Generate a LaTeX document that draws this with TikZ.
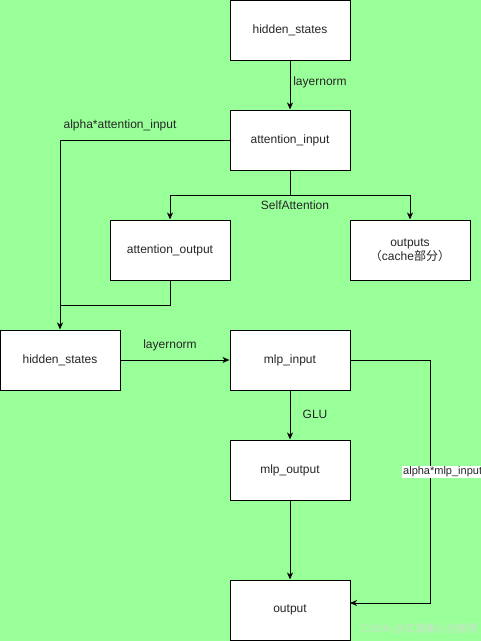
\documentclass[tikz,border=0pt]{standalone}
\usepackage{fontspec}
\setmainfont{Liberation Sans}
\newfontfamily\cjk{Noto Sans CJK SC}
\usetikzlibrary{arrows.meta,calc}
\definecolor{bggreen}{RGB}{153,255,153}
\definecolor{wmark}{RGB}{205,225,205}
\begin{document}
\begin{tikzpicture}[x=1pt,y=-1pt,
  box/.style={draw=black,fill=white,line width=1pt,minimum width=120pt,minimum height=60pt,inner sep=0pt,font=\fontsize{12}{14}\selectfont,align=center,text=black!85},
  conn/.style={draw=black,line width=1pt},
  arr/.style={conn,-{Stealth[length=7pt,width=6pt,inset=2pt]}},
  lbl/.style={font=\fontsize{12}{14}\selectfont,text=black!85,inner sep=1pt}]
\fill[bggreen] (0,0) rectangle (481,641);
\useasboundingbox (0,0) rectangle (481,641);

\node[box] (hs1) at (290,30) {hidden\_states};
\node[box] (ai) at (290,140) {attention\_input};
\node[box] (ao) at (170,250) {attention\_output};
\node[box] (outs) at (410,250) {outputs\\{\cjk （}cache{\cjk 部分）}};
\node[box] (hs2) at (60,360) {hidden\_states};
\node[box] (mi) at (290,360) {mlp\_input};
\node[box] (mo) at (290,470) {mlp\_output};
\node[box] (o) at (290,610) {output};

\coordinate (sp) at (290,195);
\coordinate (jn) at (60,305);
\coordinate (rt) at (430,603);
\coordinate (oe) at (350,603);

\draw[arr] (hs1) -- (ai);
\draw[conn] (ai.south) -- (sp);
\draw[arr] (sp) -| (ao.north);
\draw[arr] (sp) -| (outs.north);
\draw[arr] (ai.west) -| (hs2.north);
\draw[conn] (ao.south) |- (jn);
\draw[arr] (hs2.east) -- (mi.west);
\draw[arr] (mi) -- (mo);
\draw[arr] (mo) -- (o);
\draw[arr] (mi.east) -| (rt) -- (oe);

\node[lbl] (l1) at (320,82) {layernorm};
\node[lbl] (l2) at (120,125) {alpha*attention\_input};
\node[lbl] (l3) at (295,205) {SelfAttention};
\node[lbl] (l4) at (170,345) {layernorm};
\node[lbl] (l5) at (315,414) {GLU};
\node[font=\fontsize{11}{13}\selectfont,text=black!85,fill=white,inner sep=1pt,anchor=west] (l6) at (402,472) {alpha*mlp\_input};
\node[font=\fontsize{10.5}{12}\selectfont,text=wmark,anchor=east,inner sep=0pt] (wm) at (478,629) {CSDN @{\cjk 红酒暖心也暖胃}};
\end{tikzpicture}
\end{document}
